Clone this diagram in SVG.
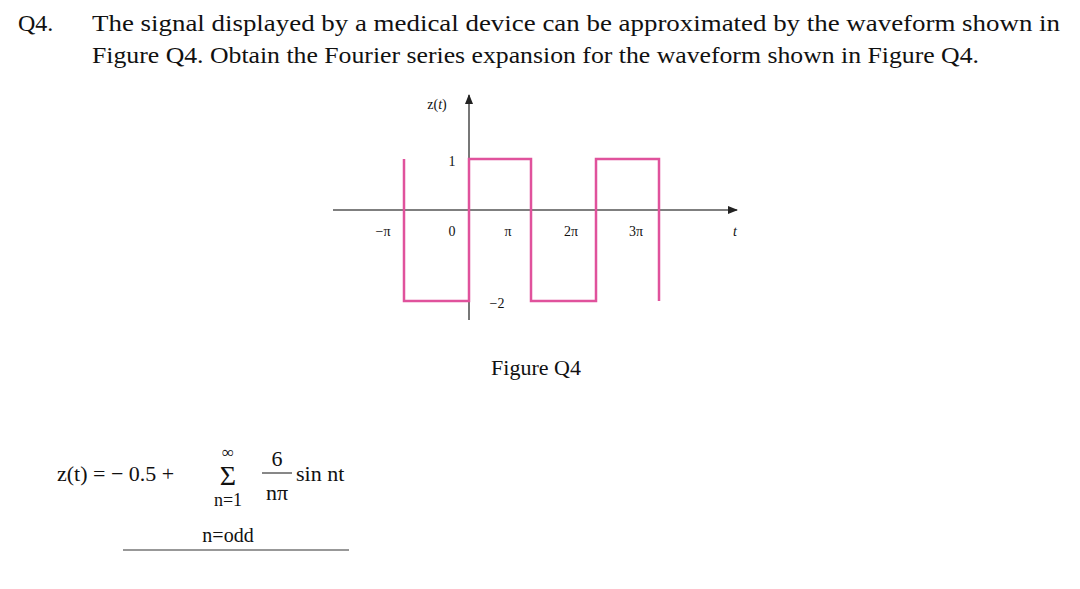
<svg xmlns="http://www.w3.org/2000/svg" width="1080" height="589" viewBox="0 0 1080 589" font-family="'Liberation Serif', 'Times New Roman', Tinos, serif">
<style>
text{font-family:'Liberation Serif','Times New Roman',Tinos,serif;fill:#111}
.w{fill:none;stroke:#e0529c;stroke-width:2.5}
.ax{stroke:#555;stroke-width:1.6;fill:none}
</style>
<defs><marker id="ar" markerWidth="10" markerHeight="8" refX="9" refY="4" orient="auto" markerUnits="userSpaceOnUse"><path d="M0,0L10,4L0,8z" fill="#222"/></marker></defs>
<rect width="1080" height="589" fill="#fff"/>
<text x="18" y="31" font-size="24">Q4.</text>
<text x="92" y="31" font-size="24" textLength="968" lengthAdjust="spacingAndGlyphs">The signal displayed by a medical device can be approximated by the waveform shown in</text>
<text x="92" y="63" font-size="24" textLength="887" lengthAdjust="spacingAndGlyphs">Figure Q4. Obtain the Fourier series expansion for the waveform shown in Figure Q4.</text>
<g id="axes">
<line class="ax" x1="333" y1="210" x2="737" y2="210" marker-end="url(#ar)"/>
<line class="ax" x1="469" y1="320" x2="469" y2="95" marker-end="url(#ar)"/>
</g>
<g id="wave"><path class="w" d="M404,159V301H469V159H531V301H596V159H659V301"/></g>
<g id="labels" font-size="14" text-anchor="middle">
<text x="383" y="236">−π</text><text x="452" y="236">0</text><text x="508" y="236">π</text>
<text x="571" y="236">2π</text><text x="636" y="236">3π</text>
<text x="735" y="236" font-style="italic">t</text>
<text x="437" y="109">z(<tspan font-style="italic">t</tspan>)</text>
<text x="452" y="166">1</text><text x="497" y="308">−2</text>
</g>
<text x="536" y="375" font-size="22" text-anchor="middle">Figure Q4</text>
<g id="eq" font-size="22">
<text x="57" y="481">z(t) = − 0.5 +</text>
<text x="228" y="458" font-size="17" text-anchor="middle">∞</text>
<text x="228" y="485" font-size="28" text-anchor="middle">Σ</text>
<text x="228" y="506" font-size="18" text-anchor="middle">n=1</text>
<text x="277" y="466" text-anchor="middle">6</text>
<line x1="262" y1="473" x2="292" y2="473" stroke="#111" stroke-width="1"/>
<text x="277" y="500" text-anchor="middle">nπ</text>
<text x="296" y="481">sin nt</text>
<text x="228" y="542" font-size="20" text-anchor="middle">n=odd</text>
<line x1="123" y1="550" x2="349" y2="550" stroke="#333" stroke-width="1.2"/>
</g>
</svg>
